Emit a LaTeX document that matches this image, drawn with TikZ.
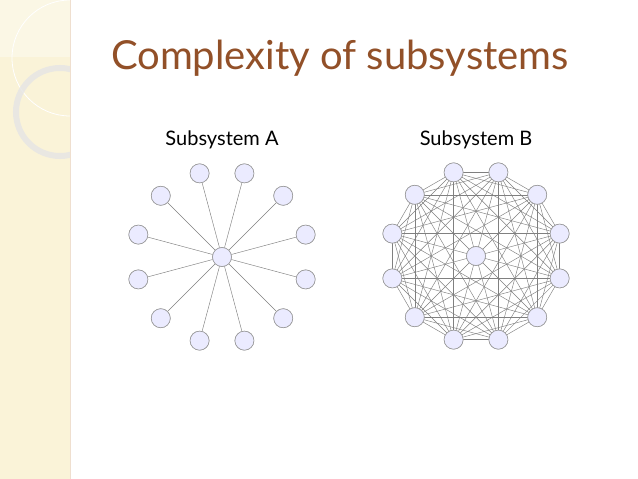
\documentclass[tikz,border=0pt]{standalone}
\usepackage{fontspec}
\setmainfont{Lato}
\usetikzlibrary{calc}
\begin{document}
\begin{tikzpicture}[x=1pt,y=-1pt,
  nd/.style={circle,draw=black!40,fill=blue!8!white,line width=0.6pt,minimum size=19pt,inner sep=0pt},
  ed/.style={draw=black!50,line width=0.45pt}]
\useasboundingbox (0,0) rectangle (638,479);
\fill[white] (0,0) rectangle (638,479);
\fill[orange!15!yellow!10!white!92!brown] (0,0) rectangle (70,479);
\fill[white,opacity=0.35] (0,0) rectangle (70,57);
\begin{scope}
\clip (0,0) rectangle (70,479);
\draw[white,line width=0.8pt] (70,58) circle (58);
\draw[black!10,line width=6pt,opacity=0.8] (60,112) circle (44);
\end{scope}
\draw[brown!25,line width=0.6pt] (70,0) -- (70,479);
\node[text=brown!70!black!90!red,font=\fontsize{40}{44}\selectfont] (title) at (340,58) {Complexity of subsystems};
\node[font=\fontsize{20}{24}\selectfont] (la) at (222,140) {Subsystem A};
\node[font=\fontsize{20}{24}\selectfont] (lb) at (476,140) {Subsystem B};
% A
\node[nd] (ac) at (222,257) {};
\foreach \i in {0,...,11} \node[nd] (a\i) at ($(ac)+({15+30*\i}:86.6)$) {};
\foreach \i in {0,...,11} \draw[ed] (ac) -- (a\i);
\foreach \i in {0,...,11} \node[nd] at (a\i) {};
\node[nd] at (ac) {};
% B
\node[nd] (bc) at (476,256) {};
\foreach \i in {0,...,11} \node[nd] (b\i) at ($(bc)+({15+30*\i}:86.6)$) {};
\foreach \i in {0,...,10} {
  \pgfmathtruncatemacro{\s}{\i+1}
  \foreach \j in {\s,...,11} \draw[ed] (b\i.center) -- (b\j.center);
}
\foreach \i in {0,...,11} \node[nd] at (b\i) {};
\node[nd] at (bc) {};
\end{tikzpicture}
\end{document}
